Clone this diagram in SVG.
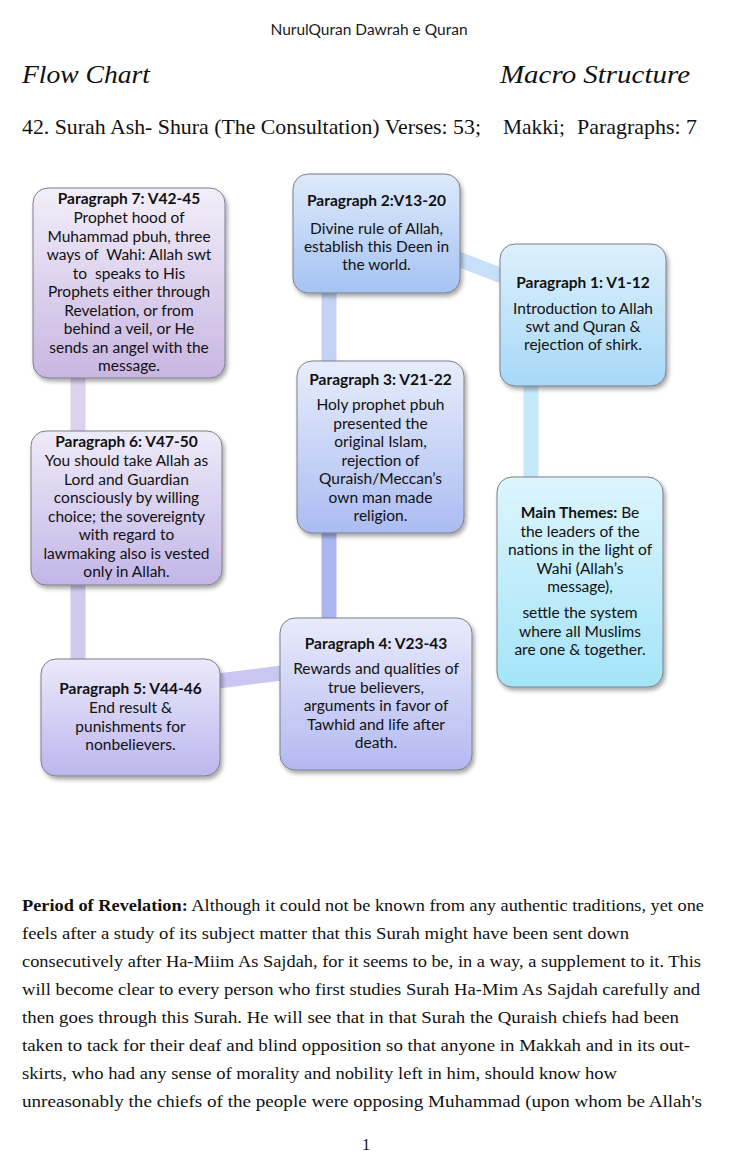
<svg xmlns="http://www.w3.org/2000/svg" width="747" height="1166" viewBox="0 0 747 1166">
<style>
.hd{font-family:Lato,"Liberation Sans",sans-serif;font-size:15.5px;fill:#1a1a1a}
.scr{font-family:"Liberation Serif",serif;font-style:italic;font-size:25px;fill:#111}
.sub{font-family:"Liberation Serif",serif;font-size:22px;fill:#111}
.nt{font-family:Lato,"Liberation Sans",sans-serif;font-size:15.5px;fill:#111;text-anchor:middle;white-space:pre}
.b{font-weight:bold}
.body{font-family:"Liberation Serif",serif;font-size:16.5px;fill:#111}
.box{stroke:#7d7d8c;stroke-width:1;filter:url(#sh)}
.con{fill:none;stroke-width:15;stroke-linecap:butt}
</style>
<defs>
<filter id="sh" x="-10%" y="-10%" width="125%" height="125%">
<feDropShadow dx="2" dy="3" stdDeviation="2" flood-color="#000" flood-opacity="0.35"/>
</filter>
<linearGradient id="g7" x1="0" y1="0" x2="0" y2="1"><stop offset="0" stop-color="#f2eef9"/><stop offset="1" stop-color="#c8b6e2"/></linearGradient>
<linearGradient id="g6" x1="0" y1="0" x2="0" y2="1"><stop offset="0" stop-color="#eeebf9"/><stop offset="1" stop-color="#c2b6e7"/></linearGradient>
<linearGradient id="g5" x1="0" y1="0" x2="0" y2="1"><stop offset="0" stop-color="#ebe9fa"/><stop offset="1" stop-color="#bcb6ee"/></linearGradient>
<linearGradient id="g4" x1="0" y1="0" x2="0" y2="1"><stop offset="0" stop-color="#e9ebfb"/><stop offset="1" stop-color="#b3b9f1"/></linearGradient>
<linearGradient id="g3" x1="0" y1="0" x2="0" y2="1"><stop offset="0" stop-color="#e7edfb"/><stop offset="1" stop-color="#abbcf2"/></linearGradient>
<linearGradient id="g2" x1="0" y1="0" x2="0" y2="1"><stop offset="0" stop-color="#dde9fb"/><stop offset="1" stop-color="#a5c3f3"/></linearGradient>
<linearGradient id="g1" x1="0" y1="0" x2="0" y2="1"><stop offset="0" stop-color="#ddf0fc"/><stop offset="1" stop-color="#a6d8f7"/></linearGradient>
<linearGradient id="gm" x1="0" y1="0" x2="0" y2="1"><stop offset="0" stop-color="#ddf5fd"/><stop offset="1" stop-color="#a4e4f8"/></linearGradient>
</defs>
<rect width="747" height="1166" fill="#fff"/>

<text class="hd" x="369" y="35" text-anchor="middle">NurulQuran Dawrah e Quran</text>
<text class="scr" x="22" y="83" textLength="128" lengthAdjust="spacingAndGlyphs">Flow Chart</text>
<text class="scr" x="500" y="83" textLength="190" lengthAdjust="spacingAndGlyphs">Macro Structure</text>
<text class="sub" x="22" y="134" textLength="459" lengthAdjust="spacingAndGlyphs">42. Surah Ash- Shura (The Consultation) Verses: 53;</text>
<text class="sub" x="503" y="134" textLength="62" lengthAdjust="spacingAndGlyphs">Makki;</text>
<text class="sub" x="577" y="134" textLength="120" lengthAdjust="spacingAndGlyphs">Paragraphs: 7</text>

<g id="connectors">
<line class="con" x1="78" y1="376" x2="78" y2="433" stroke="#dcd2ee"/>
<line class="con" x1="78" y1="583" x2="78" y2="661" stroke="#d0caee"/>
<line class="con" x1="218" y1="681" x2="282" y2="673" stroke="#c9c6f2"/>
<line class="con" x1="329" y1="531" x2="329" y2="620" stroke="#acb5ef"/>
<line class="con" x1="329" y1="291" x2="329" y2="363" stroke="#c4d2f6"/>
<line class="con" x1="458" y1="259" x2="502" y2="276" stroke="#c5e0f8"/>
<line class="con" x1="531" y1="384" x2="531" y2="479" stroke="#c4eafa"/>
</g>

<g id="node7">
<rect class="box" x="33" y="188" width="192" height="190" rx="15" fill="url(#g7)"/>
<text class="nt"><tspan class="b" x="129" y="204">Paragraph 7: V42-45</tspan><tspan x="129" y="223">Prophet hood of</tspan><tspan x="129" y="241.5">Muhammad pbuh, three</tspan><tspan x="129" y="260">ways of  Wahi: Allah swt</tspan><tspan x="129" y="278.5">to  speaks to His</tspan><tspan x="129" y="297">Prophets either through</tspan><tspan x="129" y="315.5">Revelation, or from</tspan><tspan x="129" y="334">behind a veil, or He</tspan><tspan x="129" y="352.5">sends an angel with the</tspan><tspan x="129" y="371">message.</tspan></text>
</g>

<g id="node2">
<rect class="box" x="293" y="174" width="167" height="119" rx="15" fill="url(#g2)"/>
<text class="nt"><tspan class="b" x="376.5" y="206">Paragraph 2:V13-20</tspan><tspan x="376.5" y="234">Divine rule of Allah,</tspan><tspan x="376.5" y="252">establish this Deen in</tspan><tspan x="376.5" y="270">the world.</tspan></text>
</g>

<g id="node1">
<rect class="box" x="500" y="244" width="166" height="142" rx="15" fill="url(#g1)"/>
<text class="nt"><tspan class="b" x="583" y="288">Paragraph 1: V1-12</tspan><tspan x="583" y="314">Introduction to Allah</tspan><tspan x="583" y="332">swt and Quran &amp;</tspan><tspan x="583" y="350">rejection of shirk.</tspan></text>
</g>

<g id="node3">
<rect class="box" x="297" y="361" width="167" height="172" rx="15" fill="url(#g3)"/>
<text class="nt"><tspan class="b" x="380.5" y="385">Paragraph 3: V21-22</tspan><tspan x="380.5" y="410">Holy prophet pbuh</tspan><tspan x="380.5" y="428.5">presented the</tspan><tspan x="380.5" y="447">original Islam,</tspan><tspan x="380.5" y="465.5">rejection of</tspan><tspan x="380.5" y="484">Quraish/Meccan’s</tspan><tspan x="380.5" y="502.5">own man made</tspan><tspan x="380.5" y="521">religion.</tspan></text>
</g>

<g id="node6">
<rect class="box" x="31" y="431" width="191" height="154" rx="15" fill="url(#g6)"/>
<text class="nt"><tspan class="b" x="126.5" y="447">Paragraph 6: V47-50</tspan><tspan x="126.5" y="466">You should take Allah as</tspan><tspan x="126.5" y="484.5">Lord and Guardian</tspan><tspan x="126.5" y="503">consciously by willing</tspan><tspan x="126.5" y="521.5">choice; the sovereignty</tspan><tspan x="126.5" y="540">with regard to</tspan><tspan x="126.5" y="558.5">lawmaking also is vested</tspan><tspan x="126.5" y="577">only in Allah.</tspan></text>
</g>

<g id="main">
<rect class="box" x="497" y="477" width="166" height="210" rx="15" fill="url(#gm)"/>
<text class="nt"><tspan x="580" y="518"><tspan class="b">Main Themes:</tspan> Be</tspan><tspan x="580" y="536.5">the leaders of the</tspan><tspan x="580" y="555">nations in the light of</tspan><tspan x="580" y="573.5">Wahi (Allah’s</tspan><tspan x="580" y="592">message),</tspan><tspan x="580" y="618">settle the system</tspan><tspan x="580" y="636.5">where all Muslims</tspan><tspan x="580" y="655">are one &amp; together.</tspan></text>
</g>

<g id="node5">
<rect class="box" x="41" y="659" width="179" height="117" rx="15" fill="url(#g5)"/>
<text class="nt"><tspan class="b" x="130.5" y="694">Paragraph 5: V44-46</tspan><tspan x="130.5" y="713">End result &amp;</tspan><tspan x="130.5" y="731.5">punishments for</tspan><tspan x="130.5" y="750">nonbelievers.</tspan></text>
</g>

<g id="node4">
<rect class="box" x="280" y="618" width="192" height="152" rx="15" fill="url(#g4)"/>
<text class="nt"><tspan class="b" x="376" y="649">Paragraph 4: V23-43</tspan><tspan x="376" y="674">Rewards and qualities of</tspan><tspan x="376" y="692.5">true believers,</tspan><tspan x="376" y="711">arguments in favor of</tspan><tspan x="376" y="729.5">Tawhid and life after</tspan><tspan x="376" y="748">death.</tspan></text>
</g>

<g id="bodytext">
<text class="body" x="22" y="911" textLength="682" lengthAdjust="spacingAndGlyphs"><tspan class="b">Period of Revelation:</tspan> Although it could not be known from any authentic traditions, yet one</text>
<text class="body" x="22" y="939" textLength="607" lengthAdjust="spacingAndGlyphs">feels after a study of its subject matter that this Surah might have been sent down</text>
<text class="body" x="22" y="967" textLength="679" lengthAdjust="spacingAndGlyphs">consecutively after Ha-Miim As Sajdah, for it seems to be, in a way, a supplement to it. This</text>
<text class="body" x="22" y="995" textLength="678" lengthAdjust="spacingAndGlyphs">will become clear to every person who first studies Surah Ha-Mim As Sajdah carefully and</text>
<text class="body" x="22" y="1023" textLength="657" lengthAdjust="spacingAndGlyphs">then goes through this Surah. He will see that in that Surah the Quraish chiefs had been</text>
<text class="body" x="22" y="1051" textLength="668" lengthAdjust="spacingAndGlyphs">taken to tack for their deaf and blind opposition so that anyone in Makkah and in its out-</text>
<text class="body" x="22" y="1079" textLength="595" lengthAdjust="spacingAndGlyphs">skirts, who had any sense of morality and nobility left in him, should know how</text>
<text class="body" x="22" y="1107" textLength="680" lengthAdjust="spacingAndGlyphs">unreasonably the chiefs of the people were opposing Muhammad (upon whom be Allah's</text>
<text class="body" x="366" y="1150" text-anchor="middle">1</text>
</g>
</svg>
